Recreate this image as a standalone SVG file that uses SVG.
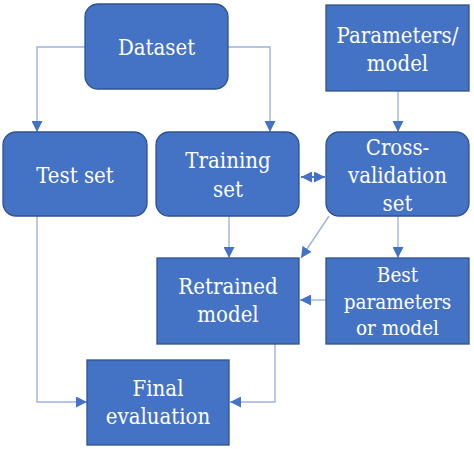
<svg xmlns="http://www.w3.org/2000/svg" width="474" height="449" viewBox="0 0 474 449">
<style>
.box{fill:#4472c4;stroke:#2f528f;stroke-width:1.3}
text{font-family:'DejaVu Serif Condensed','DejaVu Serif','Liberation Serif',serif;font-stretch:condensed;font-size:22px;fill:#fff;text-anchor:middle}
.s{font-size:20.5px}
.c{fill:none;stroke:#9db3df;stroke-width:1.4}
</style>
<defs>
<marker id="a" viewBox="0 0 10 10" refX="10" refY="5" markerWidth="11" markerHeight="11" markerUnits="userSpaceOnUse" orient="auto-start-reverse">
<path d="M0,0 L10,5 L0,10 Z" fill="#4472c4"/>
</marker>
</defs>
<rect width="474" height="449" fill="#fff"/>
<g id="connectors">
<path class="c" d="M85,47 H37 V132" marker-end="url(#a)"/>
<path class="c" d="M228,47 H270 V132" marker-end="url(#a)"/>
<path class="c" d="M398,91 V132" marker-end="url(#a)"/>
<path class="c" d="M301,177 H325" style="stroke:#4f7cc6;stroke-width:2" marker-start="url(#a)" marker-end="url(#a)"/>
<path class="c" d="M229,216 V258" marker-end="url(#a)"/>
<path class="c" d="M329,216 L301,258" marker-end="url(#a)"/>
<path class="c" d="M398,216 V258" marker-end="url(#a)"/>
<path class="c" d="M326,300 H300" marker-end="url(#a)"/>
<path class="c" d="M37,216 V402 H87" marker-end="url(#a)"/>
<path class="c" d="M275,344 V402 H230" marker-end="url(#a)"/>
</g>
<g id="dataset"><rect class="box" x="85" y="4" width="143" height="85" rx="13"/><text x="156.5" y="55">Dataset</text></g>
<g id="parameters"><rect class="box" x="326" y="5" width="143" height="86"/><text x="397.5" y="43">Parameters/</text><text x="397.5" y="71">model</text></g>
<g id="testset"><rect class="box" x="3" y="132" width="144" height="84" rx="13"/><text x="75" y="183">Test set</text></g>
<g id="trainingset"><rect class="box" x="156" y="132" width="143" height="84" rx="13"/><text x="228" y="168">Training</text><text x="228" y="197">set</text></g>
<g id="cvset"><rect class="box" x="326" y="132" width="143" height="84" rx="13"/><text x="397.5" y="155">Cross-</text><text x="397.5" y="183">validation</text><text x="397.5" y="211">set</text></g>
<g id="retrained"><rect class="box" x="157" y="258" width="142" height="86"/><text x="228" y="294">Retrained</text><text x="228" y="322">model</text></g>
<g id="best"><rect class="box" x="326" y="258" width="143" height="86"/><text class="s" x="397.5" y="282">Best</text><text class="s" x="397.5" y="309">parameters</text><text class="s" x="397.5" y="335">or model</text></g>
<g id="final"><rect class="box" x="87" y="360" width="142" height="85"/><text x="158" y="396">Final</text><text x="158" y="424">evaluation</text></g>
</svg>
